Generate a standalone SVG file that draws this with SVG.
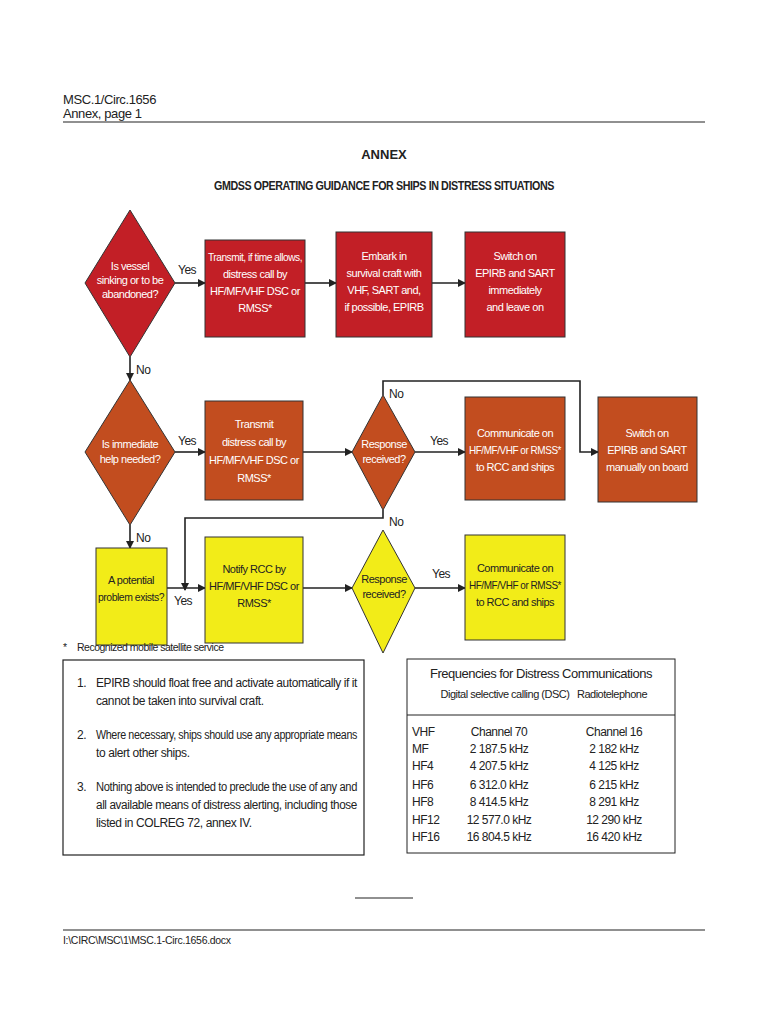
<svg xmlns="http://www.w3.org/2000/svg" width="768" height="1024" viewBox="0 0 768 1024">
<style>
text{font-family:"Liberation Sans",Arial,sans-serif;fill:#222}
.t{font-size:11px;letter-spacing:-0.5px;text-anchor:middle}
.w{fill:#fff}
.l{font-size:12px;letter-spacing:-0.5px}
.red{fill:#c21f26;stroke:#333;stroke-width:1}
.or{fill:#c24d1f;stroke:#333;stroke-width:1}
.ye{fill:#f2ec18;stroke:#333;stroke-width:1}
.c{stroke:#222;stroke-width:1.6;fill:none;marker-end:url(#a)}
.n{font-size:12px;letter-spacing:-0.4px}
</style>
<defs><marker id="a" markerWidth="8" markerHeight="8" refX="7" refY="4" orient="auto" markerUnits="userSpaceOnUse"><path d="M0,0L8,4L0,8z" fill="#222"/></marker></defs>
<rect width="768" height="1024" fill="#fff"/>
<text x="63" y="104" font-size="13" letter-spacing="-0.4">MSC.1/Circ.1656</text>
<text x="63" y="118" font-size="13" letter-spacing="-0.4">Annex, page 1</text>
<line x1="63" y1="122" x2="705" y2="122" stroke="#222" stroke-width="1.2"/>
<text x="384" y="159" font-size="13" font-weight="bold" text-anchor="middle">ANNEX</text>
<text x="384" y="190" font-size="13" font-weight="bold" text-anchor="middle" letter-spacing="-0.5" textLength="340" lengthAdjust="spacingAndGlyphs">GMDSS OPERATING GUIDANCE FOR SHIPS IN DISTRESS SITUATIONS</text>

<g id="connectors">
<path class="c" d="M175,283H205"/><path class="c" d="M305,283H336"/><path class="c" d="M432,283H465"/>
<path class="c" d="M130,357V380"/>
<path class="c" d="M175,452H205"/><path class="c" d="M303,452H352"/><path class="c" d="M415,452H465"/>
<path class="c" d="M383,395V381H580V452H598"/>
<path class="c" d="M130,525V548"/>
<path class="c" d="M383,510V518H185V590"/>
<path class="c" d="M167,588H205"/><path class="c" d="M303,588H352"/><path class="c" d="M415,588H465"/>
<text class="l" x="178" y="274">Yes</text>
<text class="l" x="136" y="374">No</text>
<text class="l" x="178" y="445">Yes</text>
<text class="l" x="430" y="445">Yes</text>
<text class="l" x="389" y="398">No</text>
<text class="l" x="136" y="542">No</text>
<text class="l" x="389" y="526">No</text>
<text class="l" x="174" y="605">Yes</text>
<text class="l" x="432" y="578">Yes</text>
</g>

<g id="n1"><path class="red" d="M130,210L175,283L130,357L85,283z"/>
<text class="t w" x="130" y="270">Is vessel</text><text class="t w" x="130" y="284">sinking or to be</text><text class="t w" x="130" y="298">abandoned?</text></g>
<g id="n2"><rect class="red" x="205" y="240" width="100" height="97"/>
<text class="t w" x="255" y="261" textLength="94" lengthAdjust="spacingAndGlyphs">Transmit, if time allows,</text><text class="t w" x="255" y="278">distress call by</text><text class="t w" x="255" y="295">HF/MF/VHF DSC or</text><text class="t w" x="255" y="312">RMSS*</text></g>
<g id="n3"><rect class="red" x="336" y="232" width="96" height="105"/>
<text class="t w" x="384" y="260">Embark in</text><text class="t w" x="384" y="277">survival craft with</text><text class="t w" x="384" y="294">VHF, SART and,</text><text class="t w" x="384" y="311">if possible, EPIRB</text></g>
<g id="n4"><rect class="red" x="465" y="232" width="100" height="105"/>
<text class="t w" x="515" y="260">Switch on</text><text class="t w" x="515" y="277">EPIRB and SART</text><text class="t w" x="515" y="294">immediately</text><text class="t w" x="515" y="311">and leave on</text></g>

<g id="n5"><path class="or" d="M130,380L175,452L130,525L85,452z"/>
<text class="t w" x="130" y="448">Is immediate</text><text class="t w" x="130" y="463">help needed?</text></g>
<g id="n6"><rect class="or" x="205" y="401" width="98" height="99"/>
<text class="t w" x="254" y="428">Transmit</text><text class="t w" x="254" y="446">distress call by</text><text class="t w" x="254" y="464">HF/MF/VHF DSC or</text><text class="t w" x="254" y="482">RMSS*</text></g>
<g id="n7"><path class="or" d="M383,395L415,452L383,510L352,452z"/>
<text class="t w" x="384" y="448">Response</text><text class="t w" x="384" y="463">received?</text></g>
<g id="n8"><rect class="or" x="465" y="397" width="100" height="103"/>
<text class="t w" x="515" y="437">Communicate on</text><text class="t w" x="515" y="454" textLength="92" lengthAdjust="spacingAndGlyphs">HF/MF/VHF or RMSS*</text><text class="t w" x="515" y="471">to RCC and ships</text></g>
<g id="n9"><rect class="or" x="598" y="397" width="99" height="105"/>
<text class="t w" x="647" y="437">Switch on</text><text class="t w" x="647" y="454">EPIRB and SART</text><text class="t w" x="647" y="471">manually on board</text></g>

<g id="n10"><rect class="ye" x="96" y="548" width="71" height="97"/>
<text class="t" x="131" y="584">A potential</text><text class="t" x="131" y="601" textLength="66" lengthAdjust="spacingAndGlyphs">problem exists?</text></g>
<g id="n11"><rect class="ye" x="205" y="537" width="98" height="106"/>
<text class="t" x="254" y="573">Notify RCC by</text><text class="t" x="254" y="590">HF/MF/VHF DSC or</text><text class="t" x="254" y="607">RMSS*</text></g>
<g id="n12"><path class="ye" d="M383,530L415,588L383,653L352,588z"/>
<text class="t" x="384" y="583">Response</text><text class="t" x="384" y="598">received?</text></g>
<g id="n13"><rect class="ye" x="465" y="535" width="100" height="105"/>
<text class="t" x="515" y="572">Communicate on</text><text class="t" x="515" y="589" textLength="92" lengthAdjust="spacingAndGlyphs">HF/MF/VHF or RMSS*</text><text class="t" x="515" y="606">to RCC and ships</text></g>

<text x="63" y="651" font-size="10.5" letter-spacing="-0.4">*</text>
<text x="77" y="651" font-size="10.5" letter-spacing="-0.5">Recognized mobile satellite service</text>

<g id="notes"><rect x="63" y="660" width="301" height="195" fill="#fff" stroke="#222" stroke-width="1.2"/>
<g class="n">
<text x="77" y="687">1.</text><text x="96" y="687" textLength="261" lengthAdjust="spacingAndGlyphs">EPIRB should float free and activate automatically if it</text><text x="96" y="705">cannot be taken into survival craft.</text>
<text x="77" y="739">2.</text><text x="96" y="739" textLength="261" lengthAdjust="spacingAndGlyphs">Where necessary, ships should use any appropriate means</text><text x="96" y="757">to alert other ships.</text>
<text x="77" y="791">3.</text><text x="96" y="791" textLength="261" lengthAdjust="spacingAndGlyphs">Nothing above is intended to preclude the use of any and</text><text x="96" y="809" textLength="261" lengthAdjust="spacingAndGlyphs">all available means of distress alerting, including those</text><text x="96" y="827">listed in COLREG 72, annex IV.</text>
</g></g>

<g id="freq"><rect x="407" y="659" width="268" height="194" fill="#fff" stroke="#222" stroke-width="1"/>
<line x1="407" y1="715" x2="675" y2="715" stroke="#222" stroke-width="1"/>
<text x="541" y="678" font-size="13" text-anchor="middle" letter-spacing="-0.5">Frequencies for Distress Communications</text>
<text x="505" y="698" font-size="11" text-anchor="middle" letter-spacing="-0.5">Digital selective calling (DSC)</text>
<text x="612" y="698" font-size="11" text-anchor="middle" letter-spacing="-0.5">Radiotelephone</text>
<g font-size="12" letter-spacing="-0.5">
<text x="412" y="736">VHF</text><text x="412" y="753">MF</text><text x="412" y="770">HF4</text><text x="412" y="789">HF6</text><text x="412" y="806">HF8</text><text x="412" y="824">HF12</text><text x="412" y="841">HF16</text>
</g>
<g font-size="12" letter-spacing="-0.5" text-anchor="middle">
<text x="499" y="736">Channel 70</text><text x="499" y="753">2 187.5 kHz</text><text x="499" y="770">4 207.5 kHz</text><text x="499" y="789">6 312.0 kHz</text><text x="499" y="806">8 414.5 kHz</text><text x="499" y="824">12 577.0 kHz</text><text x="499" y="841">16 804.5 kHz</text>
<text x="614" y="736">Channel 16</text><text x="614" y="753">2 182 kHz</text><text x="614" y="770">4 125 kHz</text><text x="614" y="789">6 215 kHz</text><text x="614" y="806">8 291 kHz</text><text x="614" y="824">12 290 kHz</text><text x="614" y="841">16 420 kHz</text>
</g></g>

<line x1="355" y1="898" x2="413" y2="898" stroke="#222" stroke-width="1.2"/>
<line x1="63" y1="930" x2="705" y2="930" stroke="#222" stroke-width="1.2"/>
<text x="63" y="944" font-size="10.5" letter-spacing="-0.3">I:\CIRC\MSC\1\MSC.1-Circ.1656.docx</text>
</svg>
